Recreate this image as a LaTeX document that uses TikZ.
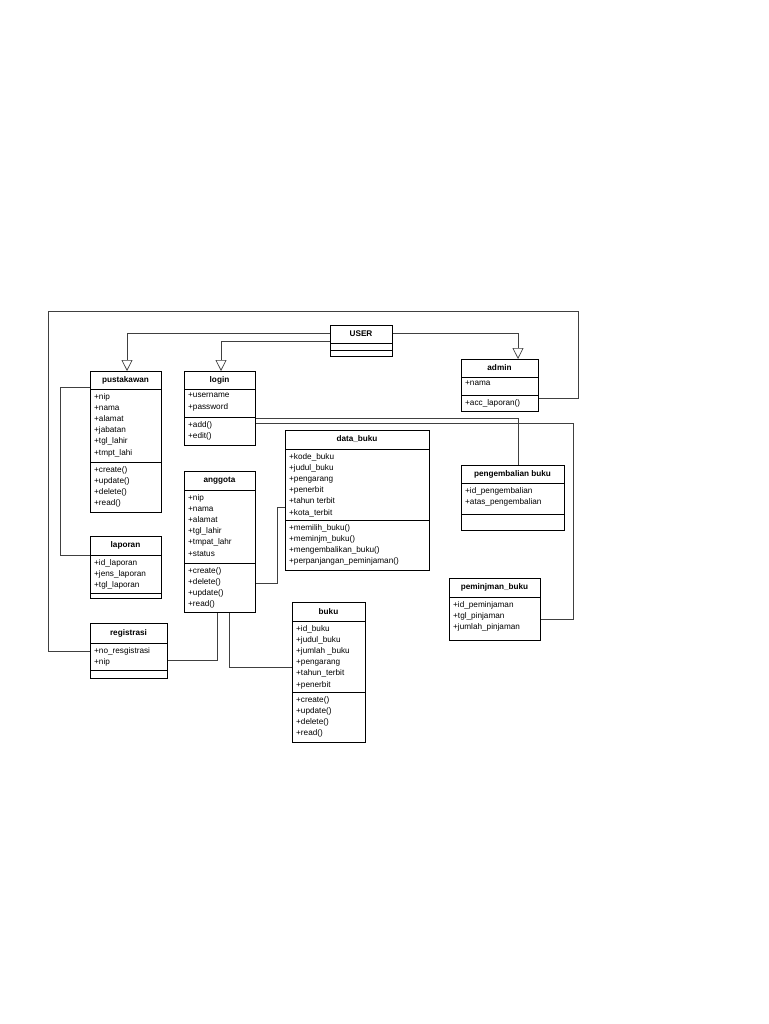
\documentclass[tikz,border=0pt]{standalone}
\usepackage{fontspec}
\setmainfont{Liberation Sans}
\usetikzlibrary{arrows.meta}
\begin{document}
\begin{tikzpicture}[x=1pt,y=-1pt,
  box/.style={draw=black,line width=0.9pt,fill=white},
  sep/.style={draw=black,line width=0.8pt},
  conn/.style={draw=black!75,line width=0.7pt},
  gen/.style={conn,-{Triangle[open,length=11pt,width=11pt]}},
  ttl/.style={font=\fontsize{8.2}{9}\selectfont\bfseries,anchor=center,inner sep=0},
  lst/.style={font=\fontsize{8.2}{11.2}\selectfont,align=left,anchor=north west,inner sep=0}]
\useasboundingbox (0,0) rectangle (768,1024);
\fill[white] (0,0) rectangle (768,1024);
\newcommand{\umlbox}[9]{%
  \draw[box] (#2,#4) rectangle (#3,#7);
  \draw[sep] (#2,#5) -- (#3,#5);
  \draw[sep] (#2,#6) -- (#3,#6);
  \node[ttl] (#1) at ({(#2+#3)/2},{(#4+#5)/2}) {#8};
  \node[lst] (#1a) at (#2+4,#5+4) {#9};
}
\coordinate (o1) at (48,651); \coordinate (o2) at (48,311); \coordinate (o3) at (578,311); \coordinate (o4) at (578,398);
\draw[conn] (90,651) -- (o1) -- (o2) -- (o3) -- (o4) -- (538,398);
\draw[conn] (90,387) -- (60,387) -- (60,555) -- (90,555);
\draw[conn] (255,418) -- (518,418) -- (518,465);
\draw[conn] (255,423) -- (573,423) -- (573,619) -- (540,619);
\draw[conn] (255,583) -- (277,583) -- (277,507) -- (285,507);
\draw[conn] (229,612) -- (229,667) -- (292,667);
\draw[conn] (167,660) -- (217,660) -- (217,612);
\draw[gen] (330,333) -- (127,333) -- (127,371);
\draw[gen] (330,341) -- (221,341) -- (221,371);
\draw[gen] (392,333) -- (518,333) -- (518,359);
\draw[box] (330,325) rectangle (392,356);
\draw[sep] (330,343) -- (392,343); \draw[sep] (330,350) -- (392,350);
\node[ttl] (user) at (361,334) {USER};
\umlbox{pus}{90}{161}{371}{389}{462}{512}{pustakawan}{+nip\\+nama\\+alamat\\+jabatan\\+tgl\_lahir\\+tmpt\_lahi}
\node[lst] (pusm) at (94,466) {+create()\\+update()\\+delete()\\+read()};
\umlbox{log}{184}{255}{371}{389}{417}{445}{login}{+username\\+password}
\node[lst] (logm) at (188,421) {+add()\\+edit()};
\umlbox{adm}{461}{538}{359}{377}{395}{411}{admin}{+nama}
\node[lst] (admm) at (465,399) {+acc\_laporan()};
\umlbox{db}{285}{429}{430}{449}{520}{570}{data\_buku}{+kode\_buku\\+judul\_buku\\+pengarang\\+penerbit\\+tahun terbit\\+kota\_terbit}
\node[lst] (dbm) at (289,524) {+memilih\_buku()\\+meminjm\_buku()\\+mengembalikan\_buku()\\+perpanjangan\_peminjaman()};
\umlbox{peng}{461}{564}{465}{483}{514}{530}{pengembalian buku}{+id\_pengembalian\\+atas\_pengembalian}
\draw[box] (449,578) rectangle (540,640);
\draw[sep] (449,597) -- (540,597);
\node[ttl] (pem) at (494.5,587.5) {peminjman\_buku};
\node[lst] (pema) at (453,601) {+id\_peminjaman\\+tgl\_pinjaman\\+jumlah\_pinjaman};
\umlbox{ang}{184}{255}{471}{490}{563}{612}{anggota}{+nip\\+nama\\+alamat\\+tgl\_lahir\\+tmpat\_lahr\\+status}
\node[lst] (angm) at (188,567) {+create()\\+delete()\\+update()\\+read()};
\umlbox{lap}{90}{161}{536}{555}{593}{598}{laporan}{+id\_laporan\\+jens\_laporan\\+tgl\_laporan}
\umlbox{reg}{90}{167}{623}{643}{670}{678}{registrasi}{+no\_resgistrasi\\+nip}
\umlbox{buku}{292}{365}{602}{621}{692}{742}{buku}{+id\_buku\\+judul\_buku\\+jumlah \_buku\\+pengarang\\+tahun\_terbit\\+penerbit}
\node[lst] (bukum) at (296,696) {+create()\\+update()\\+delete()\\+read()};
\end{tikzpicture}
\end{document}
